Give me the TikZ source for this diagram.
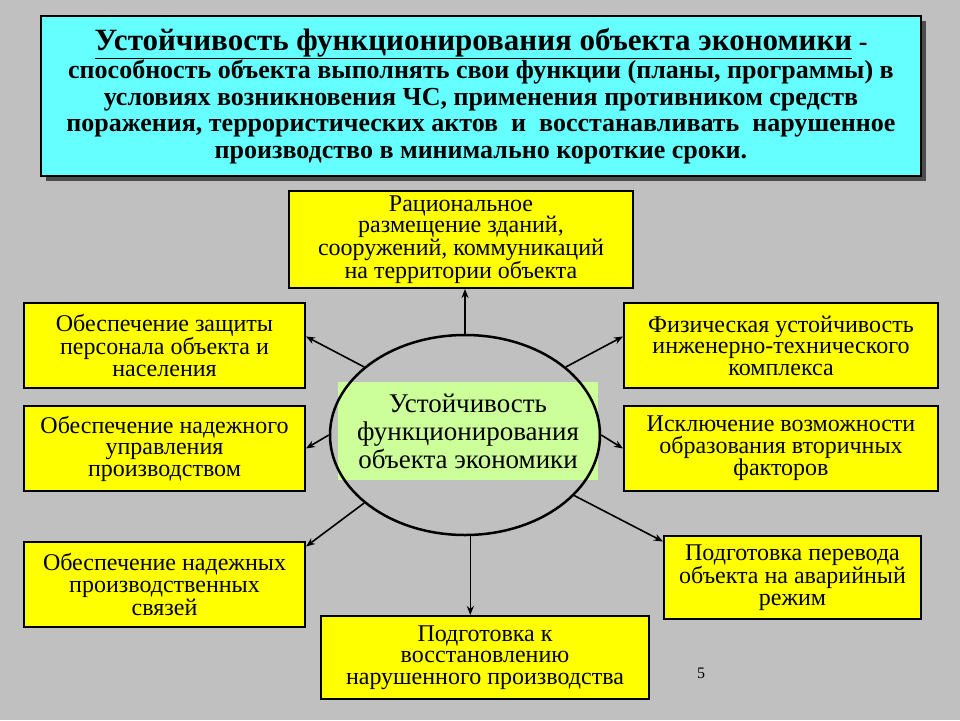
\documentclass[tikz,border=0pt]{standalone}
\usepackage{fontspec}
\setmainfont{Liberation Serif}
\usetikzlibrary{arrows.meta,shapes.geometric}
\definecolor{bg}{RGB}{192,192,192}
\definecolor{cyanbox}{RGB}{102,255,255}
\definecolor{yel}{RGB}{255,255,0}
\definecolor{grn}{RGB}{204,255,153}
\tikzset{
 yb/.style={draw=black,line width=2pt,fill=yel,anchor=north west,align=center,inner sep=0pt,font=\fontsize{24}{21.5}\selectfont},
 arr/.style={-{Stealth[length=9pt,width=7pt]},line width=1.6pt}
}
\begin{document}
\begin{tikzpicture}[x=1pt,y=-1pt]
\fill[bg] (0,0) rectangle (960,720);
\useasboundingbox (0,0) rectangle (960,720);
\fill[black!70] (46,21) rectangle (926,181);
\node[draw,line width=2pt,fill=cyanbox,anchor=north west,minimum width=880pt,minimum height=160pt,inner sep=0pt,align=center,font=\bfseries\fontsize{26}{26.5}\selectfont] (t) at (40,15)
 {{\fontsize{31}{26.5}\selectfont\underline{Устойчивость функционирования объекта экономики}} -\\
 способность объекта выполнять свои функции (планы, программы) в\\
 условиях возникновения ЧС, применения противником средств\\
 поражения, террористических актов \ и \ восстанавливать \ нарушенное\\
 производство в минимально короткие сроки.};
\node[yb,minimum width=344pt,minimum height=97pt] (top) at (288,190) {Рациональное\\размещение зданий,\\сооружений, коммуникаций\\на территории объекта};
\node[yb,minimum width=281pt,minimum height=85pt] (l1) at (23,302) {Обеспечение защиты\\персонала объекта и\\населения};
\node[yb,minimum width=281pt,minimum height=85pt] (l2) at (23,405) {Обеспечение надежного\\управления\\производством};
\node[yb,minimum width=281pt,minimum height=85pt] (l3) at (23,541) {Обеспечение надежных\\производственных\\связей};
\node[yb,minimum width=314pt,minimum height=85pt] (r1) at (623,302) {Физическая устойчивость\\инженерно-технического\\комплекса};
\node[yb,minimum width=314pt,minimum height=85pt] (r2) at (623,405) {Исключение возможности\\образования вторичных\\факторов};
\node[yb,minimum width=257pt,minimum height=83pt] (r3) at (663,535) {Подготовка перевода\\объекта на аварийный\\режим};
\node[yb,minimum width=328pt,minimum height=83pt] (bot) at (320,615) {Подготовка к\\восстановлению\\нарушенного производства};
\node[fill=grn,minimum width=260pt,minimum height=98pt,align=center,font=\fontsize{27}{28}\selectfont] (g) at (468,431) {Устойчивость\\функционирования\\объекта экономики};
\node[draw,ellipse,line width=2.5pt,minimum width=270pt,minimum height=200pt] (e) at (465,435) {};
\draw[arr] (e.90) -- (top.south -| e.90);
\draw[arr] (e.146) -- ([yshift=9pt]l1.east);
\draw[arr] (e.180) -- (l2.east);
\draw[arr] (e.214) -- ([yshift=38pt]l3.east);
\draw[arr] (e.34) -- ([yshift=9pt]r1.west);
\draw[arr] (e.0) -- (r2.west);
\draw[arr] (e.-29) -- ([yshift=36pt]r3.west);
\draw[arr] (e.-87) -- (bot.north -| e.-87);
\node[font=\fontsize{16}{16}\selectfont] (pn) at (701,673) {5};
\end{tikzpicture}
\end{document}
